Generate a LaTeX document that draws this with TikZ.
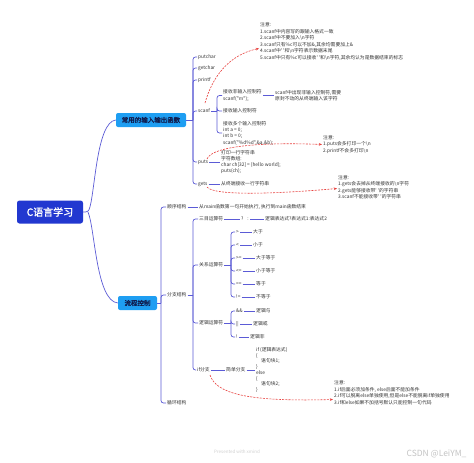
\documentclass[tikz,border=0pt]{standalone}
\usepackage{fontspec}
\newfontfamily\cjk{Noto Sans CJK SC}
\newfontfamily\cjkb[FakeBold=1.6]{Noto Sans CJK SC}
\usetikzlibrary{arrows.meta}
\definecolor{lc}{HTML}{5B5BD6}
\definecolor{rootc}{HTML}{2238D0}
\definecolor{boxc}{HTML}{1E9EF2}
\definecolor{boxt}{HTML}{101D4F}
\definecolor{tc}{HTML}{333333}
\definecolor{rc}{HTML}{E8423F}
\definecolor{wmc}{HTML}{C4C4C4}
\tikzset{
  lbl/.style={font=\cjk\fontsize{4.8}{6.3}\selectfont, text=tc, anchor=west, inner sep=1pt, align=left},
  notebox/.style={lbl, font=\cjk\fontsize{4.8}{6.55}\selectfont},
  codebox/.style={lbl, font=\cjk\fontsize{4.8}{5.75}\selectfont},
  ln/.style={draw=lc, line width=0.7pt, rounded corners=2.5pt},
  redarrow/.style={draw=rc, line width=0.6pt, dash pattern=on 2pt off 1.2pt, -{Stealth[length=3.2pt,width=2.6pt]}},
  rootbox/.style={fill=rootc, rounded corners=2.5pt, minimum width=66pt, minimum height=23pt, text=white, font=\cjkb\fontsize{10}{12}\selectfont, inner sep=0pt},
  mainbox/.style={fill=boxc, rounded corners=2pt, minimum height=14pt, text=boxt, font=\cjkb\fontsize{6.5}{8}\selectfont, inner sep=0pt}
}
\begin{document}
\begin{tikzpicture}[x=1pt,y=-1pt]
\useasboundingbox[fill=white] (0,0) rectangle (474,463);

% root and main branches
\node[rootbox] (root) at (50,212) {C语言学习};
\node[mainbox, minimum width=70pt] (b1) at (151,120) {常用的输入输出函数};
\node[mainbox, minimum width=39pt] (b2) at (137.5,303) {流程控制};
\coordinate (r0) at (88,212);
\draw[ln] (root.east) -- (r0) .. controls (95,196) and (96,122) .. (b1.west);
\draw[ln] (r0) .. controls (95,228) and (96,301) .. (b2.west);

% ---------- branch 1 ----------
\node[lbl] (putchar) at (197,57) {putchar};
\node[lbl] (getchar) at (197,68) {getchar};
\node[lbl] (printf) at (197,80) {printf};
\node[lbl] (scanf) at (197,111) {scanf};
\node[lbl] (puts) at (197,162) {puts};
\node[lbl] (gets) at (197,184) {gets};
\coordinate (k1) at (193,120);
\draw[ln] (b1.east) -- (k1);
\foreach \n in {putchar,getchar,printf,scanf,puts,gets} \draw[ln] (k1) |- (\n.west);

% scanf children
\node[lbl] (sc1) at (222,95.5) {接收非输入控制符\\scanf("m");};
\node[lbl] (sc2) at (222,111) {接收输入控制符};
\node[lbl] (sc3) at (222,133) {接收多个输入控制符\\int a = 0;\\int b = 0;\\scanf("\%d\%d",\&a,\&b);};
\coordinate (k2) at (217,111);
\draw[ln] (scanf.east) -- (k2);
\foreach \n in {sc1,sc2,sc3} \draw[ln] (k2) |- (\n.west);
\node[lbl] (sc1n) at (274,95.5) {scanf中出现非输入控制符,需要\\原封不动的从终端输入该字符};
\draw[ln] (sc1.east) -- (sc1n.west);

% puts / gets children
\node[lbl] (pc1) at (220,162) {打印一行字符串\\字符数组:\\char ch[32] = \{hello world\};\\puts(ch);};
\draw[ln] (puts.east) -- (pc1.west);
\node[lbl] (gc1) at (220,184) {从终端接收一行字符串};
\draw[ln] (gets.east) -- (gc1.west);

% notes of branch 1
\node[notebox] (n1) at (259,41.5) {注意:\\1.scanf中内容写的跟输入格式一致\\2.scanf中不要加入\textbackslash n字符\\3.scanf只有\%c可以不加\&,其余均需要加上\&\\4.scanf中' '和\textbackslash n字符表示数据末尾\\5.scanf中只有\%c可以接收' '和\textbackslash n字符,其余均认为是数据结束的标志};
\node[notebox] (n2) at (322,144.5) {注意:\\1.puts会多打印一个\textbackslash n\\2.printf不会多打印\textbackslash n};
\node[notebox] (n3) at (337,187) {注意:\\1.gets会去掉从终端接收的\textbackslash n字符\\2.gets能够接收带' '的字符串\\3.scanf不能接收带' '的字符串};
\coordinate (a1s) at (205,103);
\coordinate (a2s) at (207,159);
\coordinate (a3s) at (207,187);
\draw[redarrow] (a1s) .. controls (212,78) and (228,55) .. (n1.west |- 0,48.5);
\draw[redarrow] (a2s) .. controls (212,146) and (262,142) .. (n2.west);
\draw[redarrow] (a3s) .. controls (214,196) and (275,194) .. (n3.west |- 0,188.5);

% ---------- branch 2 ----------
\node[lbl] (seq) at (166,207) {顺序结构};
\node[lbl] (br) at (166,295) {分支结构};
\node[lbl] (loop) at (166,403) {循环结构};
\coordinate (k3) at (161,303);
\draw[ln] (b2.east) -- (k3);
\foreach \n in {seq,br,loop} \draw[ln] (k3) |- (\n.west);
\node[lbl] (seqc) at (198,207) {从main函数第一句开始执行, 执行到main函数结束};
\draw[ln] (seq.east) -- (seqc.west);

\node[lbl] (sanmu) at (198,219) {三目运算符};
\node[lbl] (guanxi) at (198,265) {关系运算符};
\node[lbl] (luoji) at (198,323) {逻辑运算符};
\node[lbl] (ifb) at (196,370) {if分支};
\coordinate (k4) at (193,295);
\draw[ln] (br.east) -- (k4);
\foreach \n in {sanmu,guanxi,luoji,ifb} \draw[ln] (k4) |- (\n.west);

\node[lbl] (q) at (240,219) {?\hspace{4pt}:};
\node[lbl] (qd) at (264,219) {逻辑表达式?表达式1:表达式2};
\draw[ln] (sanmu.east) -- (q.west);
\draw[ln] (q.east) -- (qd.west);

% relational operators
\coordinate (k5) at (231,265);
\draw[ln] (guanxi.east) -- (k5);
\foreach \i/\op/\lab/\y/\lx in {g1/>/大于/232/252, g2/</小于/245/252, g3/>=/大于等于/258/255, g4/<=/小于等于/271/255, g5/==/等于/284/255, g6/!=/不等于/297/255} {
  \node[lbl] (\i) at (235,\y) {\op};
  \node[lbl] (\i l) at (\lx,\y) {\lab};
  \draw[ln] (k5) |- (\i.west);
  \draw[ln] (\i.east) -- (\i l.west);
}

% logical operators
\coordinate (k6) at (231,323);
\draw[ln] (luoji.east) -- (k6);
\node[lbl] (l1) at (235,311) {\&\&};
\node[lbl] (l2) at (235,324) {||};
\node[lbl] (l3) at (235,337) {!};
\node[lbl] (l1l) at (255,311) {逻辑与};
\node[lbl] (l2l) at (252,324) {逻辑或};
\node[lbl] (l3l) at (249,337) {逻辑非};
\foreach \n in {l1,l2,l3} {
  \draw[ln] (k6) |- (\n.west);
  \draw[ln] (\n.east) -- (\n l.west);
}

% if branch
\node[lbl] (simple) at (225,370) {简单分支};
\node[codebox] (code) at (255,370) {if (逻辑表达式)\\\{\\\hspace{5pt}语句块1;\\\}\\else\\\{\\\hspace{5pt}语句块2;\\\}};
\draw[ln] (ifb.east) -- (simple.west);
\draw[ln] (simple.east) -- (code.west);

\node[notebox] (n4) at (333,392.5) {注意:\\1.if后面必须加条件, else后面不能加条件\\2.if可以脱离else单独使用,但是else不能脱离if单独使用\\3.if和else如果不加括号默认只能控制一句代码};
\coordinate (a4s) at (210,375);
\draw[redarrow] (a4s) .. controls (216,393) and (245,402) .. (n4.west |- 0,399.5);

% watermarks
\node[font=\cjk\fontsize{4.5}{5}\selectfont, text=wmc!80] (wm1) at (237,452) {Presented with xmind};
\node[font=\cjk\fontsize{8.5}{10}\selectfont, text=wmc, anchor=east] (wm2) at (470,454) {CSDN @LeiYM\_};
\end{tikzpicture}
\end{document}
